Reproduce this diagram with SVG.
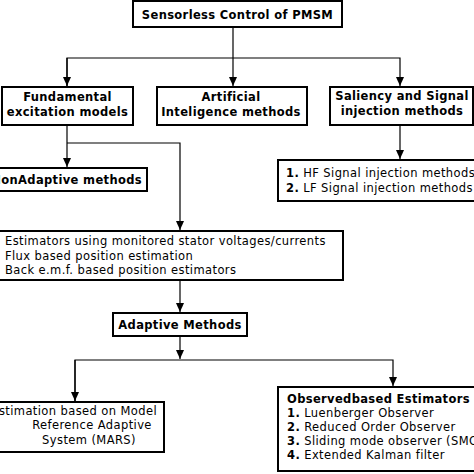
<svg xmlns="http://www.w3.org/2000/svg" width="474" height="474" viewBox="0 0 474 474">
<style>
.box{fill:#fff;stroke:#000;stroke-width:2}
.tb{font-family:"DejaVu Sans",Verdana,sans-serif;font-weight:bold;font-size:11.5px;letter-spacing:0.35px;fill:#000}
.tr{font-family:"DejaVu Sans",Verdana,sans-serif;font-size:11.5px;letter-spacing:0.4px;fill:#000}
.c{text-anchor:middle}
.ln{fill:none;stroke:#000;stroke-width:1.2}
</style>
<defs>
<marker id="ah" markerWidth="9" markerHeight="8" refX="9" refY="4" orient="auto" markerUnits="userSpaceOnUse" viewBox="0 0 9 8">
<path d="M0,0 L9,4 L0,8 Z" fill="#000"/>
</marker>
</defs>
<rect width="474" height="474" fill="#fff"/>
<g id="connectors">
<line class="ln" x1="233" y1="27" x2="233" y2="86" marker-end="url(#ah)"/>
<polyline class="ln" points="67,86 67,58 400,58 400,86" marker-end="url(#ah)"/>
<line class="ln" x1="67" y1="58" x2="67" y2="86" marker-end="url(#ah)"/>
<line class="ln" x1="67" y1="125" x2="67" y2="167" marker-end="url(#ah)"/>
<polyline class="ln" points="67,143 180,143 180,230" marker-end="url(#ah)"/>
<line class="ln" x1="400" y1="125" x2="400" y2="159" marker-end="url(#ah)"/>
<line class="ln" x1="180" y1="280" x2="180" y2="312" marker-end="url(#ah)"/>
<line class="ln" x1="180" y1="336" x2="180" y2="359" marker-end="url(#ah)"/>
<polyline class="ln" points="75,401 75,360 393,360 393,386" marker-end="url(#ah)"/>
<line class="ln" x1="75" y1="360" x2="75" y2="401" marker-end="url(#ah)"/>
</g>
<g id="root">
<rect class="box" x="133" y="1" width="209" height="26"/>
<text class="tb c" x="237.5" y="18.5">Sensorless Control of PMSM</text>
</g>
<g id="fundamental">
<rect class="box" x="2" y="87" width="131" height="38"/>
<text class="tb c" x="67.5" y="100.5">Fundamental</text>
<text class="tb c" x="67.5" y="115.5">excitation models</text>
</g>
<g id="ai">
<rect class="box" x="157" y="87" width="150" height="38"/>
<text class="tb c" x="231" y="100.5">Artificial</text>
<text class="tb c" x="231" y="115.5">Inteligence methods</text>
</g>
<g id="saliency">
<rect class="box" x="330" y="87" width="143" height="38"/>
<text class="tb c" x="402" y="100">Saliency and Signal</text>
<text class="tb c" x="402" y="115">injection methods</text>
</g>
<g id="nonadaptive">
<rect class="box" x="-5" y="168" width="152" height="23"/>
<text class="tb" x="142" y="184" text-anchor="end">NonAdaptive methods</text>
</g>
<g id="hf">
<rect class="box" x="278" y="160" width="200" height="41"/>
<text class="tr" x="286" y="177"><tspan font-weight="bold">1.</tspan> HF Signal injection methods</text>
<text class="tr" x="286" y="192"><tspan font-weight="bold">2.</tspan> LF Signal injection methods</text>
</g>
<g id="estimators">
<rect class="box" x="-5" y="231" width="348" height="49" stroke-width="1.5"/>
<text class="tr" x="5" y="245">Estimators using monitored stator voltages/currents</text>
<text class="tr" x="5" y="260">Flux based position estimation</text>
<text class="tr" x="5" y="274">Back e.m.f. based position estimators</text>
</g>
<g id="adaptive">
<rect class="box" x="113" y="313" width="134" height="23" stroke-width="1.5"/>
<text class="tb c" x="180" y="328.5">Adaptive Methods</text>
</g>
<g id="mars">
<rect class="box" x="-5" y="402" width="169" height="50"/>
<text class="tr" x="157" y="415" text-anchor="end">Estimation based on Model</text>
<text class="tr c" x="92" y="429">Reference Adaptive</text>
<text class="tr c" x="89" y="444">System (MARS)</text>
</g>
<g id="observer">
<rect class="box" x="278" y="387" width="200" height="84"/>
<text class="tb" x="287" y="403">Observedbased Estimators</text>
<text class="tr" x="287" y="417"><tspan font-weight="bold">1.</tspan> Luenberger Observer</text>
<text class="tr" x="287" y="431"><tspan font-weight="bold">2.</tspan> Reduced Order Observer</text>
<text class="tr" x="287" y="445"><tspan font-weight="bold">3.</tspan> Sliding mode observer (SMO)</text>
<text class="tr" x="287" y="459"><tspan font-weight="bold">4.</tspan> Extended Kalman filter</text>
</g>
</svg>
